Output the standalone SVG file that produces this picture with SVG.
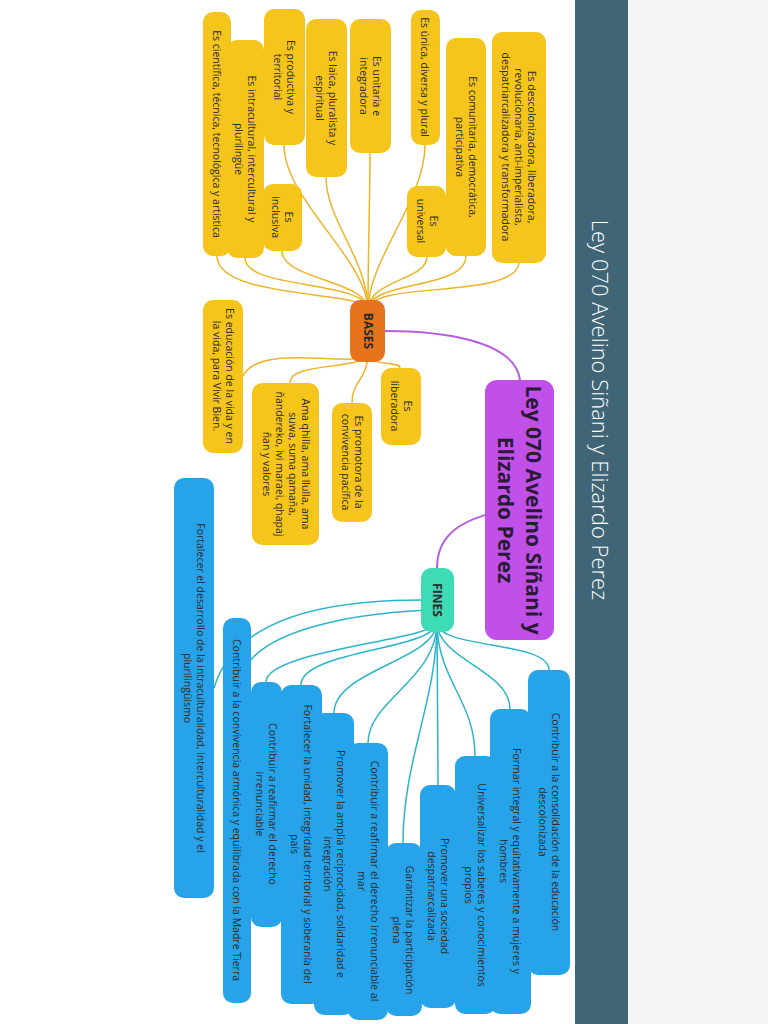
<svg xmlns="http://www.w3.org/2000/svg" width="768" height="1024" viewBox="0 0 768 1024">
<style>
.t{font-family:"Open Sans","Noto Sans",sans-serif;font-size:10.5px;fill:#2b2b2b;text-anchor:middle}
.y{fill:#f6c51c}.b{fill:#27a3e9}
.cy{fill:none;stroke:#ecb428;stroke-width:1.5}
.cb{fill:none;stroke:#2bb5c9;stroke-width:1.5}
.cp{fill:none;stroke:#b65ee0;stroke-width:2}
</style>
<rect width="768" height="1024" fill="#fff"/>
<rect x="575" y="0" width="53" height="1024" fill="#3f6577"/>
<rect x="628" y="0" width="140" height="1024" fill="#f4f4f4"/>
<text transform="translate(600,410) rotate(90)" style="font-family:'Open Sans',sans-serif;font-weight:300;font-size:22px;fill:#fff;text-anchor:middle" dy="8">Ley 070 Avelino Siñani y Elizardo Perez</text>
<g id="connectors">
<path class="cp" d="M385 331 C440 331 515 340 520 380"/>
<path class="cp" d="M437 568 C437 530 470 520 485 515"/>
<path class="cy" d="M368 310 C368 280 515 300 519 263"/>
<path class="cy" d="M368 310 C368 280 466 290 466 256"/>
<path class="cy" d="M368 310 C368 260 425 200 425 145"/>
<path class="cy" d="M368 310 C368 280 427 280 427 257"/>
<path class="cy" d="M368 310 C368 250 370 200 370 153"/>
<path class="cy" d="M368 310 C368 260 326 220 326 177"/>
<path class="cy" d="M368 310 C368 260 284 200 284 145"/>
<path class="cy" d="M368 310 C368 280 282 280 282 251"/>
<path class="cy" d="M368 310 C368 280 245 290 245 258"/>
<path class="cy" d="M368 310 C368 290 217 300 217 256"/>
<path class="cy" d="M368 352 C368 372 260 340 243 376"/>
<path class="cy" d="M368 352 C368 372 290 360 290 383"/>
<path class="cy" d="M368 352 C368 380 352 380 352 403"/>
<path class="cy" d="M368 352 C368 368 400 360 400 368"/>
<path class="cb" d="M437 622 C437 650 549 640 549 670"/>
<path class="cb" d="M437 622 C437 660 510 670 510 709"/>
<path class="cb" d="M437 622 C437 680 475 700 475 756"/>
<path class="cb" d="M437 622 C437 700 438 740 438 785"/>
<path class="cb" d="M437 622 C437 700 403 760 403 843"/>
<path class="cb" d="M437 622 C437 680 368 700 368 743"/>
<path class="cb" d="M437 622 C437 660 334 670 334 713"/>
<path class="cb" d="M437 622 C437 650 301 650 301 685"/>
<path class="cb" d="M437 622 C437 640 266 650 266 682"/>
<path class="cb" d="M437 610 C400 610 250 620 240 682"/>
<path class="cb" d="M421 600 C380 600 240 600 214 688"/>
</g>
<g id="central"><rect x="485" y="380" width="69" height="260" rx="12" fill="#c150e8"/>
<text transform="translate(519,510) rotate(90)" style="font-family:'Open Sans',sans-serif;font-weight:700;font-size:21px;fill:#2b1a33;text-anchor:middle"><tspan x="0" y="-7">Ley 070 Avelino Siñani y</tspan><tspan x="0" y="21">Elizardo Perez</tspan></text></g>
<g id="bases"><rect x="350" y="300" width="35" height="62" rx="10" fill="#e8731d"/>
<text transform="translate(368,331) rotate(90)" style="font-family:'Open Sans',sans-serif;font-weight:700;font-size:12px;fill:#2b2b2b;text-anchor:middle" y="4">BASES</text></g>
<g id="fines"><rect x="421" y="568" width="33" height="64" rx="10" fill="#3ddbb6"/>
<text transform="translate(437,600) rotate(90)" style="font-family:'Open Sans',sans-serif;font-weight:700;font-size:12px;fill:#2b2b2b;text-anchor:middle" y="4">FINES</text></g>

<g id="b1"><rect class="y" x="492" y="32" width="54" height="231" rx="10"/><text class="t" transform="translate(519,147) rotate(90)"><tspan x="0" y="-9">Es descolonizadora, liberadora,</tspan><tspan x="0" y="4">revolucionaria, anti-imperialista,</tspan><tspan x="0" y="17">despatriarcalizadora y transformadora</tspan></text></g>
<g id="b2"><rect class="y" x="446" y="38" width="40" height="218" rx="10"/><text class="t" transform="translate(466,147) rotate(90)"><tspan x="0" y="-3">Es comunitaria, democrática,</tspan><tspan x="0" y="10">participativa</tspan></text></g>
<g id="b3"><rect class="y" x="411" y="10" width="29" height="135" rx="10"/><text class="t" transform="translate(425,77) rotate(90)" y="4">Es única, diversa y plural</text></g>
<g id="b4"><rect class="y" x="407" y="186" width="39" height="71" rx="10"/><text class="t" transform="translate(427,221) rotate(90)"><tspan x="0" y="-3">Es</tspan><tspan x="0" y="10">universal</tspan></text></g>
<g id="b5"><rect class="y" x="350" y="19" width="41" height="134" rx="10"/><text class="t" transform="translate(370,86) rotate(90)"><tspan x="0" y="-3">Es unitaria e</tspan><tspan x="0" y="10">integradora</tspan></text></g>
<g id="b6"><rect class="y" x="306" y="19" width="41" height="158" rx="10"/><text class="t" transform="translate(326,98) rotate(90)"><tspan x="0" y="-3">Es laica, pluralista y</tspan><tspan x="0" y="10">espiritual</tspan></text></g>
<g id="b7"><rect class="y" x="264" y="9" width="41" height="136" rx="10"/><text class="t" transform="translate(284,77) rotate(90)"><tspan x="0" y="-3">Es productiva y</tspan><tspan x="0" y="10">territorial</tspan></text></g>
<g id="b9"><rect class="y" x="227" y="40" width="37" height="218" rx="10"/><text class="t" transform="translate(245,149) rotate(90)"><tspan x="0" y="-3">Es intracultural, intercultural y</tspan><tspan x="0" y="10">plurilingüe</tspan></text></g>
<g id="b8"><rect class="y" x="263" y="184" width="39" height="67" rx="10"/><text class="t" transform="translate(282,217) rotate(90)"><tspan x="0" y="-3">Es</tspan><tspan x="0" y="10">inclusiva</tspan></text></g>
<g id="b10"><rect class="y" x="203" y="12" width="28" height="244" rx="10"/><text class="t" transform="translate(217,134) rotate(90)" y="4">Es científica, técnica, tecnológica y artística</text></g>
<g id="b11"><rect class="y" x="203" y="300" width="40" height="153" rx="10"/><text class="t" transform="translate(223,376) rotate(90)"><tspan x="0" y="-3">Es educación de la vida y en</tspan><tspan x="0" y="10">la vida, para Vivir Bien.</tspan></text></g>
<g id="b12"><rect class="y" x="252" y="383" width="67" height="162" rx="10"/><text class="t" transform="translate(286,464) rotate(90)"><tspan x="0" y="-16">Ama qhilla, ama llulla, ama</tspan><tspan x="0" y="-3">suwa, suma qamaña,</tspan><tspan x="0" y="10">ñandereko, ivi maraei, qhapaj</tspan><tspan x="0" y="23">ñan y valores</tspan></text></g>
<g id="b13"><rect class="y" x="332" y="403" width="40" height="119" rx="10"/><text class="t" transform="translate(352,462) rotate(90)"><tspan x="0" y="-3">Es promotora de la</tspan><tspan x="0" y="10">convivencia pacífica</tspan></text></g>
<g id="b14"><rect class="y" x="381" y="368" width="40" height="77" rx="10"/><text class="t" transform="translate(401,406) rotate(90)"><tspan x="0" y="-3">Es</tspan><tspan x="0" y="10">liberadora</tspan></text></g>

<g id="fk"><rect class="b" x="174" y="478" width="40" height="420" rx="10"/><text class="t" transform="translate(194,688) rotate(90)"><tspan x="0" y="-3">Fortalecer el desarrollo de la intraculturalidad, interculturalidad y el</tspan><tspan x="0" y="10">plurilingüismo</tspan></text></g>
<g id="fj"><rect class="b" x="223" y="618" width="28" height="385" rx="10"/><text class="t" transform="translate(237,810) rotate(90)" y="4">Contribuir a la convivencia armónica y equilibrada con la Madre Tierra</text></g>
<g id="fa"><rect class="b" x="528" y="670" width="42" height="305" rx="10"/><text class="t" transform="translate(549,822) rotate(90)"><tspan x="0" y="-3">Contribuir a la consolidación de la educación</tspan><tspan x="0" y="10">descolonizada</tspan></text></g>
<g id="fb"><rect class="b" x="490" y="709" width="41" height="305" rx="10"/><text class="t" transform="translate(510,861) rotate(90)"><tspan x="0" y="-3">Formar integral y equitativamente a mujeres y</tspan><tspan x="0" y="10">hombres</tspan></text></g>
<g id="fc"><rect class="b" x="455" y="756" width="41" height="258" rx="10"/><text class="t" transform="translate(475,885) rotate(90)"><tspan x="0" y="-3">Universalizar los saberes y conocimientos</tspan><tspan x="0" y="10">propios</tspan></text></g>
<g id="fd"><rect class="b" x="420" y="785" width="36" height="223" rx="10"/><text class="t" transform="translate(438,896) rotate(90)"><tspan x="0" y="-3">Promover una sociedad</tspan><tspan x="0" y="10">despatriarcalizada</tspan></text></g>
<g id="fe"><rect class="b" x="386" y="843" width="36" height="173" rx="10"/><text class="t" transform="translate(403,930) rotate(90)"><tspan x="0" y="-3">Garantizar la participación</tspan><tspan x="0" y="10">plena</tspan></text></g>
<g id="ff"><rect class="b" x="348" y="743" width="40" height="277" rx="10"/><text class="t" transform="translate(368,881) rotate(90)"><tspan x="0" y="-3">Contribuir a reafirmar el derecho irrenunciable al</tspan><tspan x="0" y="10">mar</tspan></text></g>
<g id="fg"><rect class="b" x="314" y="713" width="40" height="302" rx="10"/><text class="t" transform="translate(334,864) rotate(90)"><tspan x="0" y="-3">Promover la amplia reciprocidad, solidaridad e</tspan><tspan x="0" y="10">integración</tspan></text></g>
<g id="fh"><rect class="b" x="281" y="685" width="41" height="319" rx="10"/><text class="t" transform="translate(301,844) rotate(90)"><tspan x="0" y="-3">Fortalecer la unidad, integridad territorial y soberanía del</tspan><tspan x="0" y="10">país</tspan></text></g>
<g id="fi"><rect class="b" x="251" y="682" width="31" height="245" rx="10"/><text class="t" transform="translate(266,804) rotate(90)"><tspan x="0" y="-3">Contribuir a reafirmar el derecho</tspan><tspan x="0" y="10">irrenunciable</tspan></text></g>
</svg>
